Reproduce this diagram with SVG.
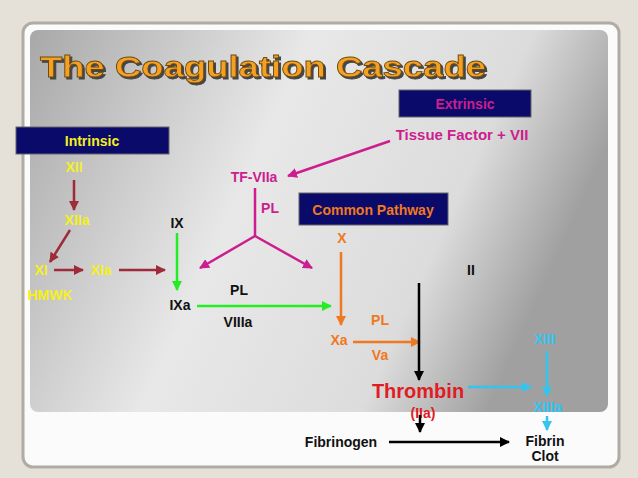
<svg xmlns="http://www.w3.org/2000/svg" width="638" height="478" viewBox="0 0 638 478">
<defs>
<linearGradient id="bg" x1="0" y1="0" x2="1" y2="0.3">
<stop offset="0" stop-color="#a8a8a8"/><stop offset="0.45" stop-color="#e8e8e8"/><stop offset="0.8" stop-color="#dcdcdc"/><stop offset="1" stop-color="#a0a0a0"/>
</linearGradient>
<filter id="sh" x="-5%" y="-20%" width="110%" height="140%"><feDropShadow dx="2" dy="2" stdDeviation="0.5" flood-color="#444"/></filter>
<marker id="mr" viewBox="0 0 10 10" refX="9" refY="5" markerWidth="4" markerHeight="4" orient="auto"><path d="M0,0L10,5L0,10z" fill="#9e2a3a"/></marker>
<marker id="mg" viewBox="0 0 10 10" refX="9" refY="5" markerWidth="4" markerHeight="4" orient="auto"><path d="M0,0L10,5L0,10z" fill="#22ee22"/></marker>
<marker id="mm" viewBox="0 0 10 10" refX="9" refY="5" markerWidth="4" markerHeight="4" orient="auto"><path d="M0,0L10,5L0,10z" fill="#cc1e8e"/></marker>
<marker id="mo" viewBox="0 0 10 10" refX="9" refY="5" markerWidth="4" markerHeight="4" orient="auto"><path d="M0,0L10,5L0,10z" fill="#f07820"/></marker>
<marker id="mk" viewBox="0 0 10 10" refX="9" refY="5" markerWidth="4" markerHeight="4" orient="auto"><path d="M0,0L10,5L0,10z" fill="#000"/></marker>
<marker id="mb" viewBox="0 0 10 10" refX="9" refY="5" markerWidth="4" markerHeight="4" orient="auto"><path d="M0,0L10,5L0,10z" fill="#33c4f0"/></marker>
</defs>
<style>
text{font-family:"Liberation Sans",Arial,sans-serif;font-weight:bold;font-size:14px}
.y{fill:#f5f01e}.k{fill:#111}.m{fill:#cc1e8e}.o{fill:#f07820}.b{fill:#33c4f0}
.hd{fill:#0a0a6a;stroke:#666;stroke-width:1}
line,path.c{fill:none;stroke-width:2.5}
</style>
<rect width="638" height="478" fill="#e6e1d8"/>
<rect x="23" y="23" width="596" height="444" rx="10" fill="#fbfbfb" stroke="#b0aca4" stroke-width="3"/>
<rect x="30" y="30" width="578" height="382" rx="8" fill="url(#bg)"/>
<text x="40" y="77" filter="url(#sh)" style="font-size:30px;fill:#f5a020;stroke:#6a4a10;stroke-width:0.8" textLength="446" lengthAdjust="spacingAndGlyphs">The Coagulation Cascade</text>
<g id="extrinsic"><rect class="hd" x="399" y="90" width="132" height="27"/><text x="465" y="109" text-anchor="middle" class="m">Extrinsic</text></g>
<g id="intrinsic"><rect class="hd" x="16" y="127" width="153" height="27"/><text x="92" y="146" text-anchor="middle" class="y">Intrinsic</text></g>
<g id="common"><rect class="hd" x="299" y="193" width="149" height="32"/><text x="373" y="215" text-anchor="middle" class="o">Common Pathway</text></g>
<g id="tf"><text x="462" y="140" text-anchor="middle" class="m" style="font-size:15px">Tissue Factor + VII</text></g>
<g id="tfviia"><text x="254" y="182" text-anchor="middle" class="m">TF-VIIa</text></g>
<g id="pl1"><text x="270" y="213" text-anchor="middle" class="m">PL</text></g>
<g id="xii"><text x="74" y="172" text-anchor="middle" class="y">XII</text></g>
<g id="xiia"><text x="77" y="225" text-anchor="middle" class="y">XIIa</text></g>
<g id="xi"><text x="41" y="275" text-anchor="middle" class="y">XI</text></g>
<g id="xia"><text x="101" y="275" text-anchor="middle" class="y">XIa</text></g>
<g id="hmwk"><text x="50" y="300" text-anchor="middle" class="y">HMWK</text></g>
<g id="ix"><text x="177" y="228" text-anchor="middle" class="k">IX</text></g>
<g id="ixa"><text x="180" y="310" text-anchor="middle" class="k">IXa</text></g>
<g id="pl2"><text x="239" y="295" text-anchor="middle" class="k">PL</text></g>
<g id="viiia"><text x="238" y="327" text-anchor="middle" class="k">VIIIa</text></g>
<g id="x"><text x="342" y="243" text-anchor="middle" class="o">X</text></g>
<g id="xa"><text x="339" y="345" text-anchor="middle" class="o">Xa</text></g>
<g id="pl3"><text x="380" y="325" text-anchor="middle" class="o">PL</text></g>
<g id="va"><text x="380" y="360" text-anchor="middle" class="o">Va</text></g>
<g id="ii"><text x="471" y="275" text-anchor="middle" class="k">II</text></g>
<g id="thrombin"><text x="418" y="398" text-anchor="middle" style="font-size:20px;fill:#e01c24">Thrombin</text><text x="423" y="418" text-anchor="middle" style="fill:#e01c24">(IIa)</text></g>
<g id="xiii"><text x="545" y="344" text-anchor="middle" class="b">XIII</text></g>
<g id="xiiia"><text x="548" y="412" text-anchor="middle" class="b">XIIIa</text></g>
<g id="fibrinogen"><text x="341" y="447" text-anchor="middle" class="k">Fibrinogen</text></g>
<g id="fibrin"><text x="545" y="446" text-anchor="middle" class="k">Fibrin</text><text x="545" y="461" text-anchor="middle" class="k">Clot</text></g>
<g id="connectors">
<line x1="74" y1="180" x2="74" y2="210" stroke="#9e2a3a" marker-end="url(#mr)"/>
<line x1="70" y1="230" x2="50" y2="262" stroke="#9e2a3a" marker-end="url(#mr)"/>
<line x1="54" y1="270" x2="83" y2="270" stroke="#9e2a3a" marker-end="url(#mr)"/>
<line x1="119" y1="270" x2="165" y2="270" stroke="#9e2a3a" marker-end="url(#mr)"/>
<line x1="177" y1="233" x2="177" y2="290" stroke="#22ee22" marker-end="url(#mg)"/>
<line x1="197" y1="306" x2="331" y2="306" stroke="#22ee22" marker-end="url(#mg)"/>
<line x1="390" y1="141" x2="288" y2="176" stroke="#cc1e8e" marker-end="url(#mm)"/>
<line x1="255" y1="188" x2="255" y2="236" stroke="#cc1e8e"/>
<line x1="255" y1="236" x2="200" y2="268" stroke="#cc1e8e" marker-end="url(#mm)"/>
<line x1="255" y1="236" x2="312" y2="268" stroke="#cc1e8e" marker-end="url(#mm)"/>
<line x1="341" y1="252" x2="341" y2="325" stroke="#f07820" marker-end="url(#mo)"/>
<line x1="353" y1="342" x2="420" y2="342" stroke="#f07820" marker-end="url(#mo)"/>
<line x1="419" y1="283" x2="419" y2="380" stroke="#000" marker-end="url(#mk)"/>
<line x1="420" y1="415" x2="420" y2="432" stroke="#000" marker-end="url(#mk)"/>
<line x1="468" y1="387" x2="531" y2="387" stroke="#33c4f0" marker-end="url(#mb)"/>
<line x1="547" y1="351" x2="547" y2="396" stroke="#33c4f0" marker-end="url(#mb)"/>
<line x1="547" y1="416" x2="547" y2="430" stroke="#33c4f0" marker-end="url(#mb)"/>
<line x1="389" y1="442" x2="509" y2="442" stroke="#000" marker-end="url(#mk)"/>
</g>
</svg>
